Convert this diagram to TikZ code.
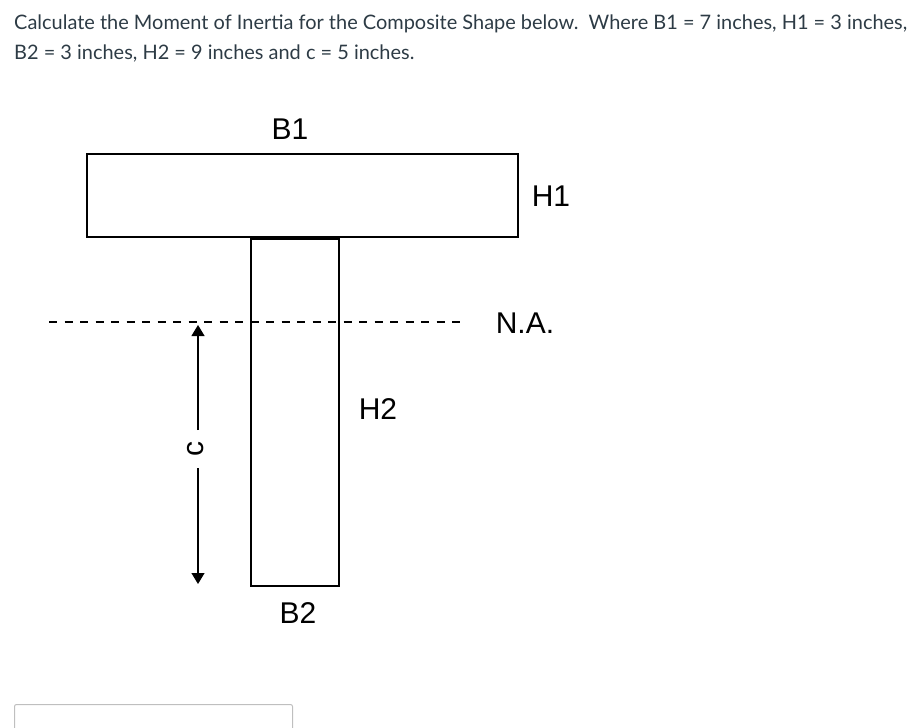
\documentclass[tikz,border=0pt]{standalone}
\usepackage{fontspec}
\setmainfont{Lato}
\newfontfamily\labelfont{Liberation Sans}
\usetikzlibrary{arrows.meta}
\definecolor{textgray}{RGB}{45,59,69}
\tikzset{
  prompt/.style={anchor=base west, inner sep=0pt, text=textgray, font=\fontsize{19.95}{24}\selectfont},
  part/.style={draw=black, line width=2.5pt, minimum size=0pt, inner sep=0pt},
  dim/.style={inner sep=0pt, font=\labelfont\fontsize{30}{34}\selectfont},
  arrow/.style={line width=1.2pt, -{Triangle[width=13pt,length=11pt]}}
}
\begin{document}
\begin{tikzpicture}[x=1pt,y=-1pt]
\useasboundingbox (0,0) rectangle (922,728);
\node[prompt] (line1) at (14,29) {Calculate the Moment of Inertia for the Composite Shape below.\ \ Where B1 = 7 inches, H1 = 3 inches,};
\node[prompt] (line2) at (14,59) {B2 = 3 inches, H2 = 9 inches and c = 5 inches.};
% the T section
\node[part, minimum width=431pt, minimum height=83pt] (flange) at (302.5,195.5) {};
\node[part, minimum width=88pt, minimum height=347pt] (web) at (295,412.5) {};
\node[dim] (b1) at (290,129) {B1};
\node[dim] (h1) at (551,196) {H1};
\node[dim] (h2) at (378,409) {H2};
\node[dim] (b2) at (298,613) {B2};
\node[dim] (na) at (525,323) {N.A.};
\node[dim, rotate=90] (c) at (196,449) {c};
% neutral axis and distance c
\coordinate (axisL) at (49,322);
\coordinate (axisR) at (465,322);
\coordinate (top) at (198,325);
\coordinate (bottom) at (198,584);
\draw[line width=2.5pt, dash pattern=on 8pt off 7.5pt] (axisL) -- (axisR);
\draw[arrow] (198,430) -- (top);
\draw[arrow] (198,468) -- (bottom);
% answer box
\draw[draw=black!25, line width=1pt, rounded corners=2pt] (14.5,740) -- (14.5,704.5) -- (292.5,704.5) -- (292.5,740);
\end{tikzpicture}
\end{document}
